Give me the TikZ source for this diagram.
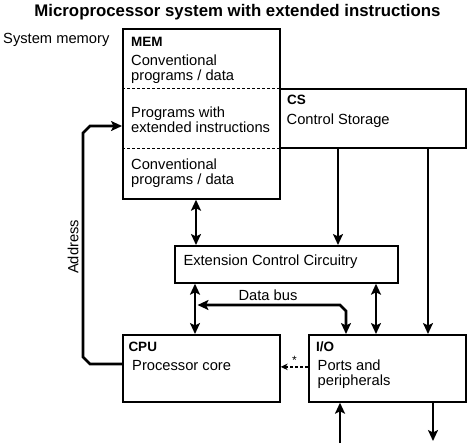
\documentclass[tikz,border=0pt]{standalone}
\usepackage{fontspec}
\setmainfont{Liberation Sans}
\usetikzlibrary{arrows.meta,positioning,calc}

\begin{document}
\begin{tikzpicture}[x=1pt,y=-1pt,
  every node/.style={inner sep=0pt,font=\fontsize{14.7}{15}\selectfont},
  blk/.style={draw,line width=1.7pt,anchor=north west},
  txt/.style={anchor=base west,align=left},
  tag/.style={anchor=base west,font=\bfseries\fontsize{13.5}{15}\selectfont},
  bus/.style={line width=2.7pt,>={Stealth[length=11pt,width=10pt,inset=2.5pt]}},
  sep/.style={line width=1pt,dash pattern=on 3pt off 2pt},
  sig/.style={line width=1.3pt,dash pattern=on 3pt off 2pt,-{Stealth[length=7pt,width=6.5pt]}}]
\useasboundingbox (0,0) rectangle (474,445);
% title
\node[font=\bfseries\fontsize{16.8}{18}\selectfont,anchor=base] (title) at (237.5,16.7) {Microprocessor system with extended instructions};
% blocks
\node[blk,minimum width=157pt,minimum height=170pt] (mem) at (122,28) {};
\node[blk,minimum width=186pt,minimum height=59pt] (cs) at (279,88) {};
\node[blk,minimum width=223pt,minimum height=37pt] (ecc) at (174,245) {};
\node[blk,minimum width=157pt,minimum height=67pt] (cpu) at (122,334) {};
\node[blk,minimum width=157pt,minimum height=67pt] (io) at (308,334) {};
\draw[sep] (mem.west |- cs.north) -- (cs.north west);
\draw[sep] (mem.west |- cs.south) -- (cs.south west);
% texts (base of a two-line node = its last line)
\node[anchor=base west] (sysmem) at (3,43.3) {System memory};
\node[tag] (memtag) at (131,46.7) {MEM};
\node[txt] (memA) at (131,80) {Conventional\\programs / data};
\node[txt] (memB) at (131,132.3) {Programs with\\extended instructions};
\node[txt] (memC) at (131,184) {Conventional\\programs / data};
\node[tag] (cstag) at (287,104) {CS};
\node[txt] (csA) at (286.5,124) {Control Storage};
\node[txt] (eccA) at (183.3,265.7) {Extension Control Circuitry};
\node[tag] (cputag) at (128.3,351.5) {CPU};
\node[txt] (cpuA) at (132,370.7) {Processor core};
\node[tag] (iotag) at (316,351.5) {I/O};
\node[txt] (ioA) at (317.5,385.5) {Ports and\\peripherals};
% helper points
\coordinate (colA) at (196,0);
\coordinate (colB) at (195,0);
\coordinate (colC) at (338,0);
\coordinate (colD) at (376,0);
\coordinate (colE) at (428,0);
\coordinate (busL) at (197.5,305);
\coordinate (busK) at (340,305);
\coordinate (busD) at (346,311);
\coordinate (adrB) at (83,364);
\coordinate (adrT) at (83,126);
\coordinate (ioin) at (340,443);
\coordinate (ioout) at (433,441);
% connectors
\draw[bus,<->] (colA |- mem.south) -- (colA |- ecc.north);
\draw[bus,->] (colC |- cs.south) -- (colC |- ecc.north);
\draw[bus,->] (colE |- cs.south) -- (colE |- io.north);
\draw[bus,<->] (colB |- ecc.south) -- (colB |- cpu.north);
\draw[bus,<->] (colD |- ecc.south) -- (colD |- io.north);
\draw[bus,<->] (busL) -- (busK) -- (busD) -- (busD |- io.north);
\node[anchor=base] (buslbl) at (268,300) {Data bus};
\draw[bus,->] (cpu.west |- adrB) -- ([xshift=7pt]adrB) -- ([yshift=7pt]adrB)
  -- ([yshift=-7pt]adrT) -- ([xshift=7pt]adrT) -- (mem.west |- adrT);
\node[rotate=90,anchor=base] (adrlbl) at (78.3,247) {Address};
\draw[sig] ([yshift=1.5pt]io.west) -- ([yshift=1.5pt]cpu.east)
  node[midway,above=2pt,font=\fontsize{12}{12}\selectfont] (star) {*};
\draw[bus,->] (ioin) -- (ioin |- io.south);
\draw[bus,->] (ioout |- io.south) -- (ioout);
\end{tikzpicture}
\end{document}
